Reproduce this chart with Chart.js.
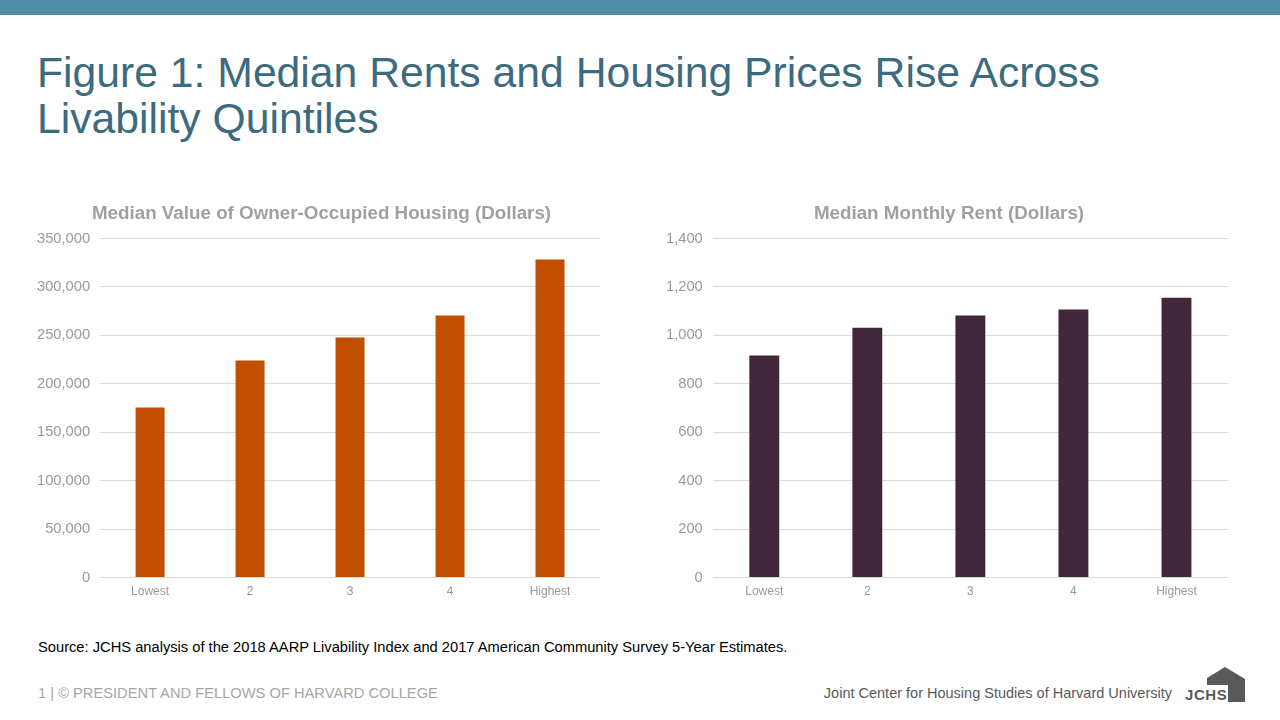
<!DOCTYPE html>
<html>
<head>
<meta charset="utf-8">
<script src="https://cdn.jsdelivr.net/npm/chart.js@4"></script>
<style>
    body { margin: 0; width: 1280px; height: 720px; background: #fff; font-family: "Liberation Sans", Arial, sans-serif; position: relative; overflow: hidden; }
    .topbar { position: absolute; left: 0; top: 0; width: 1280px; height: 15px; background: #4e8ca8; }
    h1 { position: absolute; left: 37px; top: 49px; margin: 0; font-weight: normal; font-size: 42.7px; line-height: 46px; color: #3c6a7e; white-space: nowrap; }
    .chartbox { position: absolute; }
    .source { position: absolute; left: 38px; top: 639px; font-size: 14.7px; color: #000; white-space: nowrap; }
    .footer { position: absolute; top: 685px; font-size: 14.7px; color: #a6a6a6; white-space: nowrap; }
    .jcenter { position: absolute; right: 108px; top: 685px; font-size: 14.5px; color: #595959; white-space: nowrap; }
    .logo { position: absolute; left: 1180px; top: 660px; }
</style>
</head>
<body>
<div class="topbar"></div>
<h1>Figure 1: Median Rents and Housing Prices Rise Across<br>Livability Quintiles</h1>

<div class="chartbox" style="left:27px; top:203px; width:589px; height:403px;"><canvas id="valueChart"></canvas></div>
<div class="chartbox" style="left:656px; top:203px; width:585px; height:403px;"><canvas id="rentChart"></canvas></div>

<div class="source">Source: JCHS analysis of the 2018 AARP Livability Index and 2017 American Community Survey 5-Year Estimates.</div>
<div class="footer" style="left:38px;">1 | © PRESIDENT AND FELLOWS OF HARVARD COLLEGE</div>
<div class="jcenter">Joint Center for Housing Studies of Harvard University</div>
<svg class="logo" width="70" height="46" viewBox="0 0 70 46">
    <polygon points="27,18 45,7 65,19 65,42 48,42 48,25 27,25" fill="#595959"/>
    <text x="5" y="40" font-family="Liberation Sans, Arial" font-weight="bold" font-size="15" letter-spacing="0.6" fill="#595959">JCHS</text>
</svg>

<script>
// quintile categories
const quintiles = ["Lowest", "2", "3", "4", "Highest"];

// median value of owner-occupied housing (dollars)
const homeValues = [175500, 224000, 247800, 270500, 328300];

// median monthly rent (dollars)
const monthlyRents = [917, 1032, 1082, 1107, 1156];

const valueMax = 350000, valueStep = 50000;
const rentMax = 1400, rentStep = 200;

// nudge the chart title sideways after layout (title is centred a bit right of the canvas middle)
const titleShift = {
    id: "titleShift",
    afterLayout(chart, args, opts) {
        const t = chart.titleBlock;
        if (t && opts.dx) {
            t.left += opts.dx;
            t.right += opts.dx;
        }
    }
};

function makeChart(id, title, values, color, max, step, padRight, dx) {
    const ctx = document.getElementById(id).getContext("2d");
    return new Chart(ctx, {
        type: "bar",
        data: {
            labels: quintiles,
            datasets: [{
                label: title,
                data: values,
                backgroundColor: color,
                barPercentage: 0.29,
                categoryPercentage: 1
            }]
        },
        plugins: [titleShift],
        options: {
            responsive: true,
            maintainAspectRatio: false,
            animation: false,
            layout: { padding: { right: padRight } },
            plugins: {
                legend: { display: false },
                tooltip: { enabled: false },
                titleShift: { dx: dx },
                title: {
                    display: true,
                    text: title,
                    color: "#a0a0a0",
                    font: { family: "Liberation Sans", size: 18.8, weight: "bold" },
                    padding: { top: 0, bottom: 13 }
                }
            },
            scales: {
                x: {
                    grid: { display: false, drawTicks: false },
                    border: { display: false },
                    ticks: { color: "#999999", font: { family: "Liberation Sans", size: 12 }, padding: 7 }
                },
                y: {
                    min: 0,
                    max: max,
                    ticks: {
                        stepSize: step,
                        color: "#999999",
                        font: { family: "Liberation Sans", size: 14.7 },
                        padding: 10,
                        callback: v => v.toLocaleString("en-US")
                    },
                    grid: { color: "#d9d9d9", drawTicks: false },
                    border: { display: false }
                }
            }
        }
    });
}

makeChart("valueChart", "Median Value of Owner-Occupied Housing (Dollars)", homeValues, "#c04f00", valueMax, valueStep, 16, 8);
makeChart("rentChart", "Median Monthly Rent (Dollars)", monthlyRents, "#42263a", rentMax, rentStep, 13, 7);
</script>
</body>
</html>
